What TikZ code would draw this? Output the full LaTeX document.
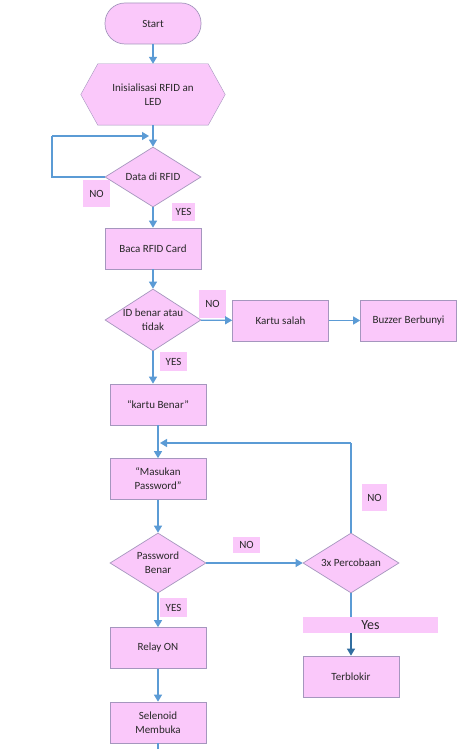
\documentclass[tikz,border=0pt]{standalone}
\usepackage{fontspec}
\setmainfont{Carlito}
\usetikzlibrary{arrows.meta,shapes.geometric,calc}
\definecolor{pinkfill}{RGB}{250,200,250}
\definecolor{edgecol}{RGB}{165,150,190}
\definecolor{linecol}{RGB}{91,155,213}
\definecolor{darkline}{RGB}{50,110,160}
\definecolor{txt}{RGB}{40,40,40}
\begin{document}
\begin{tikzpicture}[x=1pt,y=-1pt,
  every node/.style={font=\fontsize{11}{14}\selectfont, text=txt},
  procbox/.style={draw=edgecol, line width=0.7pt, fill=pinkfill, minimum width=96pt, minimum height=41pt, inner sep=1pt, align=center},
  termbox/.style={procbox, rounded corners=20pt},
  decbox/.style={diamond, aspect=1.6, draw=edgecol, line width=0.7pt, fill=pinkfill, minimum width=96pt, minimum height=60pt, inner xsep=-6pt, inner ysep=-2pt, align=center},
  lbl/.style={fill=pinkfill, inner sep=0pt, align=center},
  arr/.style={draw=linecol, line width=1.3pt, -{Triangle[length=7pt,width=8pt]}},
  ln/.style={draw=linecol, line width=1.3pt}
]
\useasboundingbox (0,0) rectangle (474,749);
\fill[white] (0,0) rectangle (474,749);

% nodes
\node[termbox] (start) at (153,23.5) {Start};
\node[minimum width=144pt, minimum height=61pt, inner sep=0pt, align=center] (init) at (153,94.5) {Inisialisasi RFID an\\LED};
\fill[pinkfill] (init.west) -- ($(init.north west)+(17,0)$) -- ($(init.north east)+(-17,0)$) -- (init.east) -- ($(init.south east)+(-17,0)$) -- ($(init.south west)+(17,0)$) -- cycle;
\draw[edgecol, line width=0.4pt] (init.west) -- ($(init.north west)+(17,0)$) -- ($(init.north east)+(-17,0)$) -- (init.east) -- ($(init.south east)+(-17,0)$) -- ($(init.south west)+(17,0)$) -- cycle;
\node[minimum width=144pt, minimum height=61pt, inner sep=0pt, align=center] at (153,94.5) {Inisialisasi RFID an\\LED};

\node[decbox] (dat) at (153,177) {Data di RFID};
\node[procbox] (baca) at (153,248.5) {Baca RFID Card};
\node[decbox, minimum height=62pt] (idb) at (153,320) {ID benar atau\\tidak};
\node[procbox] (ks) at (280.5,320.5) {Kartu salah};
\node[procbox] (bz) at (408.5,320.5) {Buzzer Berbunyi};
\node[procbox] (kb) at (158,404.5) {“kartu Benar”};
\node[procbox] (mp) at (158,479) {“Masukan\\Password”};
\node[decbox] (pb) at (158,563) {Password\\Benar};
\node[decbox] (perc) at (351,563) {3x Percobaan};
\node[lbl, minimum width=135pt, minimum height=16pt, font=\fontsize{14}{15}\selectfont] (yesbar) at (370.5,625) {Yes};
\node[procbox] (terb) at (351,676.5) {Terblokir};
\node[procbox] (relay) at (158,648) {Relay ON};
\node[procbox] (sel) at (158,722.5) {Selenoid\\Membuka};

% labels
\node[lbl, minimum width=27pt, minimum height=27pt] (no1) at (96.5,193.5) {NO};
\node[lbl, minimum width=23pt, minimum height=18pt] (yes1) at (183.5,212) {YES};
\node[lbl, minimum width=27pt, minimum height=28pt] (no2) at (212.5,304) {NO};
\node[lbl, minimum width=27pt, minimum height=19pt] (yes2) at (173.5,361.5) {YES};
\node[lbl, minimum width=27pt, minimum height=16pt] (no3) at (246.5,545) {NO};
\node[lbl, minimum width=25pt, minimum height=27pt] (no4) at (374.5,497.5) {NO};
\node[lbl, minimum width=27pt, minimum height=19pt] (yes3) at (173.5,607.5) {YES};

% coordinates
\coordinate (loopA) at (52,177);
\coordinate (loopB) at (52,136);
\coordinate (loopEnd) at (149,136);
\coordinate (backTop) at (351,443);
\coordinate (backEnd) at (160,443);
\coordinate (bottom) at (158,749);

% connectors
\draw[arr] (start) -- (init);
\draw[arr] (init) -- (dat);
\draw[ln] (dat.west) -- (loopA) -- (loopB);
\draw[arr] (loopB) -- (loopEnd);
\draw[arr] (dat) -- (baca);
\draw[arr] (baca) -- (idb);
\draw[arr] (idb) -- (ks);
\draw[arr] (ks) -- (bz);
\draw[arr] (idb.south) -- (idb.south |- kb.north);
\draw[arr] (kb) -- (mp);
\draw[ln] (perc.north) -- (backTop);
\draw[arr] (backTop) -- (backEnd);
\draw[arr] (mp) -- (pb);
\draw[arr] (pb) -- (perc);
\draw[ln] (perc.south) -- (perc.south |- yesbar.north);
\draw[draw=darkline, line width=1.3pt, -{Triangle[length=7pt,width=8pt]}] (perc.south |- yesbar.south) -- (terb.north);
\draw[arr] (pb) -- (relay);
\draw[arr] (relay) -- (sel);
\draw[ln] (sel) -- (bottom);
\end{tikzpicture}
\end{document}
